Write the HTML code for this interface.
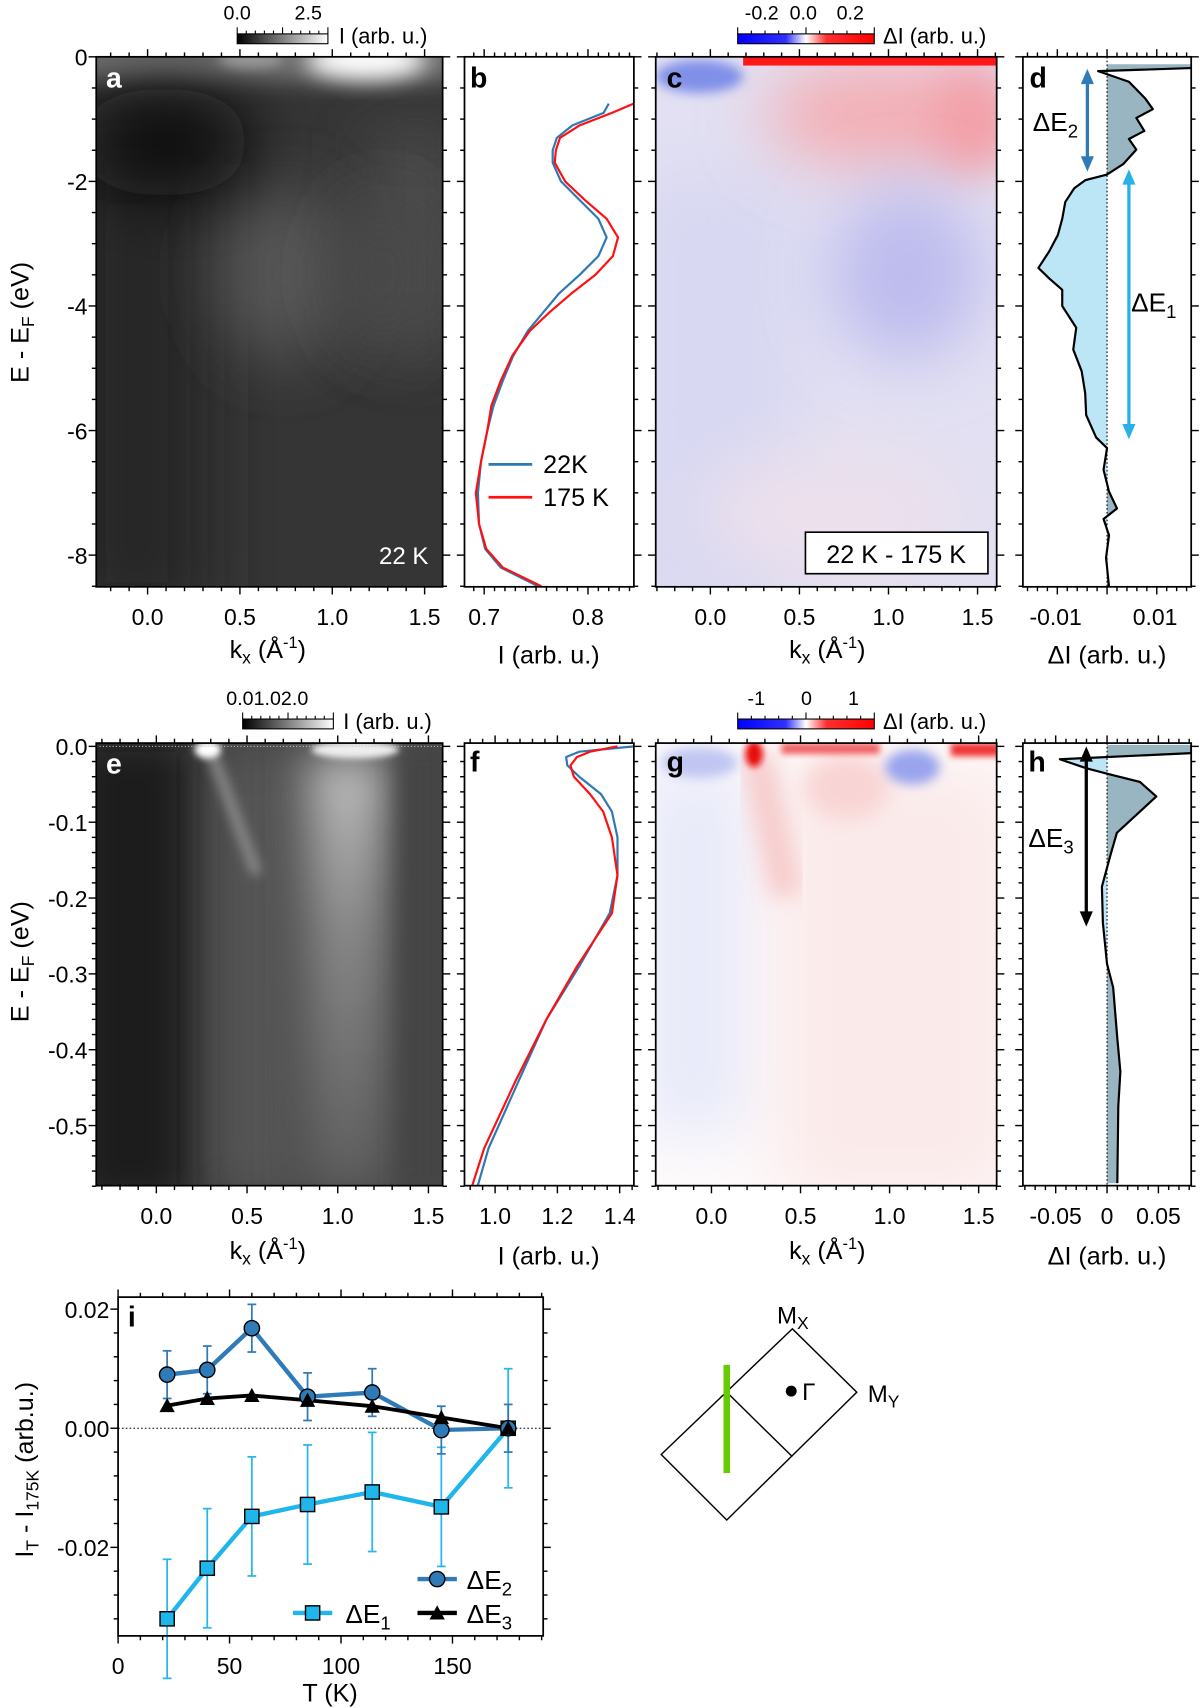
<!DOCTYPE html>
<html><head><meta charset="utf-8"><style>
html,body{margin:0;padding:0;background:#fff;}
svg{display:block;}
text{font-family:"Liberation Sans",Arial,sans-serif;}
</style></head><body>
<svg id="fig" xmlns="http://www.w3.org/2000/svg" width="1200" height="1708" viewBox="0 0 1098 1563">
<defs>
<filter id="b20" x="-50%" y="-50%" width="200%" height="200%"><feGaussianBlur stdDeviation="20"/></filter>
<filter id="b30" x="-80%" y="-80%" width="260%" height="260%"><feGaussianBlur stdDeviation="30"/></filter>
<filter id="b10" x="-50%" y="-50%" width="200%" height="200%"><feGaussianBlur stdDeviation="10"/></filter>
<filter id="b5" x="-50%" y="-50%" width="200%" height="200%"><feGaussianBlur stdDeviation="5"/></filter>
<filter id="b3" x="-50%" y="-50%" width="200%" height="200%"><feGaussianBlur stdDeviation="3"/></filter>
<clipPath id="ca"><rect x="88" y="52" width="317" height="485"/></clipPath>
<clipPath id="cb"><rect x="425" y="52" width="155" height="485"/></clipPath>
<clipPath id="cc"><rect x="600" y="52" width="312" height="485"/></clipPath>
<clipPath id="cd"><rect x="936" y="52" width="154" height="485"/></clipPath>
<clipPath id="ce"><rect x="88" y="680" width="317" height="405"/></clipPath>
<clipPath id="cf"><rect x="425" y="680" width="155" height="405"/></clipPath>
<clipPath id="cg"><rect x="600" y="680" width="312" height="405"/></clipPath>
<clipPath id="ch"><rect x="936" y="680" width="154" height="405"/></clipPath>
<clipPath id="cdR"><rect x="1013" y="52" width="77" height="485"/></clipPath>
<clipPath id="cdL"><rect x="936" y="52" width="77" height="485"/></clipPath>
<clipPath id="chR"><rect x="1013" y="680" width="77" height="405"/></clipPath>
<clipPath id="chL"><rect x="936" y="680" width="77" height="405"/></clipPath>
<linearGradient id="gray" x1="0" x2="1"><stop offset="0" stop-color="#000"/><stop offset="1" stop-color="#fff"/></linearGradient>
<linearGradient id="bwr" x1="0" x2="1"><stop offset="0" stop-color="#0000ff"/><stop offset="0.35" stop-color="#3030ff"/><stop offset="0.5" stop-color="#fff"/><stop offset="0.65" stop-color="#ff3030"/><stop offset="1" stop-color="#ff0000"/></linearGradient>
<linearGradient id="bandE" x1="0" x2="0" y1="0" y2="1"><stop offset="0" stop-color="#c0c0c0"/><stop offset="0.4" stop-color="#888"/><stop offset="1" stop-color="#5c5c5c"/></linearGradient>
</defs>

<g clip-path="url(#ca)">
<rect x="88" y="52" width="317" height="485" fill="#353535"/>
<rect x="60" y="150" width="130" height="420" fill="#262626" filter="url(#b30)"/>
<rect x="340" y="120" width="80" height="200" fill="#4e4e4e" filter="url(#b30)"/>
<ellipse cx="260" cy="250" rx="60" ry="80" fill="#565656" filter="url(#b30)"/>
<ellipse cx="350" cy="250" rx="40" ry="70" fill="#4a4a4a" filter="url(#b30)"/>
<rect x="70" y="30" width="350" height="45" fill="#707070" filter="url(#b10)"/>
<ellipse cx="150" cy="130" rx="80" ry="50" fill="#080808" filter="url(#b30)"/>
<ellipse cx="335" cy="55" rx="55" ry="18" fill="#ffffff" filter="url(#b10)"/>
<ellipse cx="230" cy="54" rx="30" ry="8" fill="#999" filter="url(#b5)"/>
</g>
<g clip-path="url(#cc)">
<rect x="600" y="52" width="312" height="485" fill="#e2e0f2"/>
<rect x="580" y="160" width="150" height="400" fill="#d8d8f2" filter="url(#b30)"/>
<ellipse cx="810" cy="105" rx="110" ry="50" fill="#f4aeb4" filter="url(#b30)"/>
<ellipse cx="890" cy="110" rx="40" ry="50" fill="#f3a0a8" filter="url(#b20)"/>
<ellipse cx="830" cy="250" rx="70" ry="80" fill="#bdbcee" filter="url(#b30)"/>
<ellipse cx="640" cy="70" rx="40" ry="15" fill="#8090e8" filter="url(#b5)"/>
<ellipse cx="760" cy="470" rx="120" ry="60" fill="#ece0ec" filter="url(#b30)"/>
<rect x="680" y="52" width="232" height="8" fill="#ff1818"/>
</g>
<g clip-path="url(#ce)">
<rect x="88" y="680" width="317" height="405" fill="#484848"/>
<rect x="60" y="670" width="120" height="440" fill="#1c1c1c" filter="url(#b20)"/>
<rect x="200" y="690" width="70" height="400" fill="#555" filter="url(#b20)"/>
<rect x="280" y="690" width="75" height="400" fill="url(#bandE)" filter="url(#b20)"/>
<rect x="365" y="680" width="45" height="410" fill="#444" filter="url(#b10)"/>
<line x1="192" y1="684" x2="235" y2="800" stroke="#8a8a8a" stroke-width="10" filter="url(#b5)"/>
<ellipse cx="190" cy="686" rx="12" ry="8" fill="#fff" filter="url(#b3)"/>
<ellipse cx="325" cy="686" rx="40" ry="8" fill="#eee" filter="url(#b3)"/>
<line x1="88" y1="683" x2="405" y2="683" stroke="#ccc" stroke-width="1" stroke-dasharray="1 2"/>
</g>
<g clip-path="url(#cg)">
<rect x="600" y="680" width="312" height="405" fill="#fefbfb"/>
<rect x="580" y="700" width="110" height="340" fill="#e8eafa" filter="url(#b30)"/>
<rect x="710" y="700" width="220" height="400" fill="#fbeaea" filter="url(#b30)"/>
<line x1="692" y1="690" x2="720" y2="820" stroke="#f7cccc" stroke-width="30" filter="url(#b10)"/>
<ellipse cx="775" cy="720" rx="40" ry="30" fill="#f9d4d4" filter="url(#b10)"/>
<ellipse cx="640" cy="698" rx="35" ry="14" fill="#c0c6f2" filter="url(#b5)"/>
<ellipse cx="835" cy="702" rx="25" ry="16" fill="#9aa4ee" filter="url(#b5)"/>
<ellipse cx="690" cy="690" rx="8" ry="12" fill="#e81010" filter="url(#b3)"/>
<rect x="715" y="680" width="90" height="10" fill="#f06060" filter="url(#b3)"/>
<rect x="870" y="680" width="45" height="12" fill="#f03030" filter="url(#b3)"/>
</g>
<g id="dyn"></g>
</svg>
<script>
// ---- data ----
const bE = [-0.75,-0.9,-1.1,-1.3,-1.5,-1.7,-2.0,-2.3,-2.6,-2.9,-3.2,-3.5,-3.8,-4.1,-4.4,-4.8,-5.2,-5.6,-6.0,-6.5,-7.0,-7.5,-7.9,-8.2,-8.5];
const b22K = [0.820,0.815,0.785,0.770,0.766,0.766,0.774,0.792,0.810,0.818,0.810,0.792,0.772,0.757,0.742,0.728,0.718,0.709,0.703,0.697,0.694,0.695,0.701,0.716,0.752];
const b175K = [0.844,0.823,0.792,0.773,0.769,0.768,0.778,0.797,0.818,0.829,0.824,0.807,0.784,0.763,0.744,0.727,0.716,0.707,0.703,0.697,0.692,0.695,0.702,0.718,0.755];
const dE = [-0.12,-0.18,-0.23,-0.40,-0.67,-0.84,-0.98,-1.19,-1.32,-1.49,-1.72,-1.89,-1.98,-2.11,-2.33,-2.60,-2.86,-3.12,-3.39,-3.56,-3.74,-4.00,-4.35,-4.70,-5.05,-5.40,-5.75,-6.11,-6.28,-6.63,-6.98,-7.25,-7.42,-7.68,-8.04,-8.51];
const dI = [0.0172,0.0169,-0.0018,0.0044,0.0077,0.0092,0.0059,0.0075,0.0044,0.0059,0.0033,0.0000,-0.0044,-0.0066,-0.0084,-0.0090,-0.0099,-0.0116,-0.0138,-0.0116,-0.0090,-0.0090,-0.0062,-0.0068,-0.0051,-0.0044,-0.0042,-0.0022,0.0000,-0.0007,0.0004,0.0020,-0.0007,0.0004,-0.0002,0.0004];
const fE = [0,-0.007,-0.014,-0.025,-0.04,-0.063,-0.086,-0.12,-0.17,-0.22,-0.29,-0.36,-0.44,-0.53,-0.58];
const f22K = [1.446,1.270,1.228,1.232,1.270,1.340,1.375,1.393,1.393,1.368,1.270,1.165,1.077,0.979,0.944];
const f175K = [1.393,1.305,1.263,1.242,1.253,1.305,1.347,1.375,1.393,1.375,1.263,1.165,1.067,0.965,0.926];
const hE = [0.002,-0.009,-0.017,-0.029,-0.036,-0.047,-0.066,-0.086,-0.114,-0.145,-0.185,-0.233,-0.287,-0.318,-0.385,-0.429,-0.474,-0.576];
const hI = [0.082,0.082,-0.046,-0.020,0.000,0.032,0.048,0.032,0.0096,0.003,-0.005,-0.004,0.000,0.006,0.010,0.013,0.011,0.010];
const iT = [22,40,60,85,114,145,175];
const iE1 = [-0.032,-0.0235,-0.0148,-0.0128,-0.0107,-0.0132,0];
const iE1err = [0.010,0.010,0.010,0.010,0.010,0.010,0.010];
const iE2 = [0.009,0.0098,0.0168,0.0053,0.0060,-0.0003,0];
const iE2err = [0.004,0.004,0.004,0.004,0.004,0.004,0.004];
const iE3 = [0.0038,0.0050,0.0055,0.0047,0.0037,0.0018,0];

// ---- scales ----
const ya = E => 52 - E*57;
const xa = k => 135 + k*169;
const xb = I => 443 + (I-0.7)*950;
const xc = k => 650 + k*163;
const xd = v => 1013 + v*4550;
const ye = E => 683 - E*694;
const xe = k => 143 + k*166;
const xf = I => 453 + (I-1)*285;
const xg = k => 651 + k*163;
const xh = v => 1013 + v*940;
const xi = T => 108 + T*2.04;
const yi = v => 1307 - v*5450;

const NS='http://www.w3.org/2000/svg';
const root=document.getElementById('dyn');
function mk(tag,attrs,parent){const e=document.createElementNS(NS,tag);for(const k in attrs)e.setAttribute(k,attrs[k]);(parent||root).appendChild(e);return e;}
function txt(x,y,s,size,anchor,extra){const t=mk('text',Object.assign({x:x,y:y,'font-size':size,'text-anchor':anchor||'middle'},extra||{}));t.textContent=s;return t;}

function ticks(side,fr,scale,vmin,vmax,minor,major){
  const g=mk('g',{stroke:'#000','stroke-width':1.3});
  
  
  const n0=Math.ceil(vmin/minor-1e-6), n1=Math.floor(vmax/minor+1e-6);
  for(let n=n0;n<=n1;n++){
    const v=n*minor; const r=v/major; const isM=Math.abs(r-Math.round(r))<1e-6;
    const L=isM?7:4; const p=scale(v);
    if(side==='left')mk('line',{x1:fr[0],x2:fr[0]-L,y1:p,y2:p},g);
    if(side==='right')mk('line',{x1:fr[1],x2:fr[1]+L,y1:p,y2:p},g);
    if(side==='top')mk('line',{x1:p,x2:p,y1:fr[2],y2:fr[2]-L},g);
    if(side==='bottom')mk('line',{x1:p,x2:p,y1:fr[3],y2:fr[3]+L},g);
  }
}
function frame(fr,name){
  const r=mk('rect',{x:fr[0],y:fr[2],width:fr[1]-fr[0],height:fr[3]-fr[2],fill:'none',stroke:'#000','stroke-width':1.6});
  
  
}
function allTicks(fr,xs,xr,xmin,xmaj,ys,yr,ymin,ymaj){
  ['top','bottom'].forEach(s=>ticks(s,fr,xs,xr[0],xr[1],xmin,xmaj));
  ['left','right'].forEach(s=>ticks(s,fr,ys,yr[0],yr[1],ymin,ymaj));
}
function poly(xs,ys,xsc,ysc,color,w,clip,name){
  const pts=xs.map((v,i)=>xsc(v).toFixed(1)+','+ysc(ys[i]).toFixed(1)).join(' ');
  const p=mk('polyline',{points:pts,fill:'none',stroke:color,'stroke-width':w,'stroke-linejoin':'round'});
  if(clip)p.setAttribute('clip-path','url(#'+clip+')');
  
  
  return p;
}
function fillArea(vals,Es,xsc,ysc,clip,color,name){
  let pts=xsc(0)+','+ysc(Es[0])+' ';
  pts+=vals.map((v,i)=>xsc(v).toFixed(1)+','+ysc(Es[i]).toFixed(1)).join(' ');
  pts+=' '+xsc(0)+','+ysc(Es[Es.length-1]);
  const p=mk('polygon',{points:pts,fill:color,stroke:'none','clip-path':'url(#'+clip+')'});
  
  
}
function arrow(x,y1,y2,color,name){
  const g=mk('g',{});
  
  
  mk('line',{x1:x,x2:x,y1:y1+10,y2:y2-10,stroke:color,'stroke-width':3},g);
  mk('polygon',{points:`${x-6},${y1+14} ${x+6},${y1+14} ${x},${y1}`,fill:color},g);
  mk('polygon',{points:`${x-6},${y2-14} ${x+6},${y2-14} ${x},${y2}`,fill:color},g);
}
const FS=21;
function kxTitle(x,y,name){const t=mk('text',{x:x,y:y,'font-size':23,'text-anchor':'middle'});t.innerHTML='k<tspan font-size="16" dy="5">x</tspan><tspan dy="-5"> (Å</tspan><tspan font-size="15" dy="-9">-1</tspan><tspan dy="9">)</tspan>';
}

// ---- Panel a ----
const Fa=[88,405,52,537];
allTicks(Fa,xa,[-0.27,1.59],0.1,0.5,ya,[-8.5,0],0.5,2);
frame(Fa,'panel-a-frame');
[0,-2,-4,-6,-8].forEach(v=>{const t=txt(80,ya(v)+8,v===0?'0':String(v),FS,'end');});
['0.0','0.5','1.0','1.5'].forEach((s,i)=>{const t=txt(xa(i*0.5),572,s,FS);});
let t;
t=txt(97,80,'a',26,'start',{'font-weight':'bold',fill:'#fff'});
t=txt(392,516,'22 K',22,'end',{fill:'#fff'});
kxTitle(245,602,'x-axis-title-a');
t=mk('text',{x:0,y:0,'font-size':23,'text-anchor':'middle',transform:'translate(26,295) rotate(-90)'});t.innerHTML='E - E<tspan font-size="16" dy="5">F</tspan><tspan dy="-5"> (eV)</tspan>';

function cbar(x,y,w,fill,name){const r=mk('rect',{x:x,y:y,width:w,height:9,fill:fill,stroke:'#000','stroke-width':1});
 const g=mk('g',{stroke:'#000','stroke-width':1});for(let i=0;i<=10;i++){const xx=x+i*w/10;mk('line',{x1:xx,x2:xx,y1:y,y2:y-(i%5===0?6:3)},g);} }
cbar(217,31,83,'url(#gray)','colorbar-a');
t=txt(217,18,'0.0',18,'middle');
t=txt(282,18,'2.5',18,'middle');
t=txt(310,40,'I (arb. u.)',20,'start');

// ---- Panel b ----
const Fb=[425,580,52,537];
allTicks(Fb,xb,[0.682,0.844],0.01,0.1,ya,[-8.5,0],0.5,2);
poly(b22K,bE,xb,ya,'#2e78b5',2,'cb','curve-22K');
poly(b175K,bE,xb,ya,'#ff1010',2,'cb','curve-175K');
frame(Fb,'panel-b-frame');
t=txt(443,572,'0.7',FS);
t=txt(538,572,'0.8',FS);
t=txt(502,607,'I (arb. u.)',23);
t=txt(430,80,'b',26,'start',{'font-weight':'bold'});
let l=mk('line',{x1:447,x2:487,y1:425,y2:425,stroke:'#2e78b5','stroke-width':2.5});
t=txt(497,433,'22K',23,'start');
l=mk('line',{x1:447,x2:487,y1:455,y2:455,stroke:'#ff1010','stroke-width':2.5});
t=txt(497,463,'175 K',23,'start');

// ---- Panel c ----
const Fc=[600,912,52,537];
allTicks(Fc,xc,[-0.3,1.6],0.1,0.5,ya,[-8.5,0],0.5,2);
frame(Fc,'panel-c-frame');
['0.0','0.5','1.0','1.5'].forEach((s,i)=>{const t=txt(xc(i*0.5),572,s,FS);});
t=txt(610,80,'c',26,'start',{'font-weight':'bold'});
let bx=mk('rect',{x:737,y:487,width:167,height:38,fill:'#fff',stroke:'#000','stroke-width':1.5});
t=txt(820,515,'22 K - 175 K',23);
kxTitle(757,602,'x-axis-title-c');
cbar(675,31,125,'url(#bwr)','colorbar-c');
t=txt(697,18,'-0.2',18);
t=txt(735,18,'0.0',18);
t=txt(778,18,'0.2',18);
t=txt(808,40,'ΔI (arb. u.)',20,'start');

// ---- Panel d ----
const Fd=[936,1090,52,537];
fillArea(dI,dE,xd,ya,'cdR','#98b5c1','fill-positive-d');
fillArea(dI,dE,xd,ya,'cdL','#bce6f5','fill-negative-d');
l=mk('line',{x1:1013,x2:1013,y1:52,y2:537,stroke:'#000','stroke-width':1,'stroke-dasharray':'1.5 2'});
poly(dI,dE,xd,ya,'#000',2,'cd','curve-d');
allTicks(Fd,xd,[-0.0168,0.0168],0.002,0.01,ya,[-8.5,0],0.5,2);
frame(Fd,'panel-d-frame');
t=txt(966,572,'-0.01',FS);
t=txt(1057,572,'0.01',FS);
t=txt(1013,607,'ΔI (arb. u.)',23);
t=txt(942,80,'d',26,'start',{'font-weight':'bold'});
arrow(995,63,157,'#2f7bb8','arrow-dE2');
arrow(1033,155,402,'#29b0e8','arrow-dE1');
t=mk('text',{x:945,y:120,'font-size':24});t.innerHTML='ΔE<tspan font-size="17" dy="6">2</tspan>';
t=mk('text',{x:1035,y:285,'font-size':24});t.innerHTML='ΔE<tspan font-size="17" dy="6">1</tspan>';

// ---- Panel e ----
const Fe=[88,405,680,1085];
allTicks(Fe,xe,[-0.33,1.58],0.1,0.5,ye,[-0.58,0],0.02,0.1);
frame(Fe,'panel-e-frame');
['0.0','-0.1','-0.2','-0.3','-0.4','-0.5'].forEach((s,i)=>{const t=txt(80,ye(-i*0.1)+8,s,FS,'end');});
['0.0','0.5','1.0','1.5'].forEach((s,i)=>{const t=txt(xe(i*0.5),1120,s,FS);});
t=txt(97,708,'e',26,'start',{'font-weight':'bold',fill:'#fff'});
kxTitle(245,1152,'x-axis-title-e');
t=mk('text',{x:0,y:0,'font-size':23,'text-anchor':'middle',transform:'translate(26,880) rotate(-90)'});t.innerHTML='E - E<tspan font-size="16" dy="5">F</tspan><tspan dy="-5"> (eV)</tspan>';

cbar(222,658,83,'url(#gray)','colorbar-e');
t=txt(207,645,'0.01.02.0',18,'start');
t=txt(314,667,'I (arb. u.)',20,'start');

// ---- Panel f ----
const Ff=[425,580,680,1085];
allTicks(Ff,xf,[0.92,1.44],0.04,0.2,ye,[-0.58,0],0.02,0.1);
poly(f22K,fE,xf,ye,'#2e78b5',2,'cf','curve-f-22K');
poly(f175K,fE,xf,ye,'#ff1010',2,'cf','curve-f-175K');
frame(Ff,'panel-f-frame');
['1.0','1.2','1.4'].forEach((s,i)=>{const t=txt(xf(1+i*0.2),1120,s,FS);});
t=txt(502,1157,'I (arb. u.)',23);
t=txt(430,706,'f',26,'start',{'font-weight':'bold'});

// ---- Panel g ----
const Fg=[600,912,680,1085];
allTicks(Fg,xg,[-0.3,1.6],0.1,0.5,ye,[-0.58,0],0.02,0.1);
frame(Fg,'panel-g-frame');
['0.0','0.5','1.0','1.5'].forEach((s,i)=>{const t=txt(xg(i*0.5),1120,s,FS);});
t=txt(610,706,'g',26,'start',{'font-weight':'bold'});
kxTitle(757,1152,'x-axis-title-g');
cbar(675,658,125,'url(#bwr)','colorbar-g');
t=txt(692,645,'-1',18);
t=txt(738,645,'0',18);
t=txt(781,645,'1',18);
t=txt(808,667,'ΔI (arb. u.)',20,'start');

// ---- Panel h ----
const Fh=[936,1090,680,1085];
fillArea(hI,hE,xh,ye,'chR','#98b5c1','fill-positive-h');
fillArea(hI,hE,xh,ye,'chL','#bce6f5','fill-negative-h');
l=mk('line',{x1:1013,x2:1013,y1:680,y2:1085,stroke:'#000','stroke-width':1,'stroke-dasharray':'1.5 2'});
poly(hI,hE,xh,ye,'#000',2,'ch','curve-h');
allTicks(Fh,xh,[-0.082,0.082],0.01,0.05,ye,[-0.58,0],0.02,0.1);
frame(Fh,'panel-h-frame');
['-0.05','0','0.05'].forEach((s,i)=>{const t=txt(xh(-0.05+i*0.05),1120,s,FS);});
t=txt(1013,1157,'ΔI (arb. u.)',23);
t=txt(941,706,'h',26,'start',{'font-weight':'bold'});
arrow(994,683,848,'#000','arrow-dE3');
t=mk('text',{x:941,y:775,'font-size':24});t.innerHTML='ΔE<tspan font-size="17" dy="6">3</tspan>';

// ---- Panel i ----
const Fi=[108,497,1187,1497];
allTicks(Fi,xi,[0,190],10,50,yi,[-0.0349,0.022],0.004,0.02);
l=mk('line',{x1:108,x2:497,y1:yi(0),y2:yi(0),stroke:'#000','stroke-width':1,'stroke-dasharray':'1.5 2'});
function errs(vals,err,color,name){const g=mk('g',{stroke:color,'stroke-width':1.6});
 iT.forEach((T,i)=>{const x=xi(T),a=yi(vals[i]+err[i]),b=yi(vals[i]-err[i]);mk('line',{x1:x,x2:x,y1:a,y2:b},g);mk('line',{x1:x-4,x2:x+4,y1:a,y2:a},g);mk('line',{x1:x-4,x2:x+4,y1:b,y2:b},g);});}
errs(iE1,iE1err,'#29b6ec','errorbars-dE1');
errs(iE2,iE2err,'#2f7bb8','errorbars-dE2');
poly(iT,iE1,xi,yi,'#1fb6ec',4,null,'line-dE1');
poly(iT,iE2,xi,yi,'#2f7bb8',4,null,'line-dE2');
poly(iT,iE3,xi,yi,'#000',3.5,null,'line-dE3');
iT.forEach((T,i)=>{
  const s=mk('rect',{x:xi(T)-6.5,y:yi(iE1[i])-6.5,width:13,height:13,fill:'#1fb6ec',stroke:'#000','stroke-width':1.3});
  
  
  const c=mk('circle',{cx:xi(T),cy:yi(iE2[i]),r:7,fill:'#2f7bb8',stroke:'#000','stroke-width':1.3});
  
  
  const x=xi(T),y=yi(iE3[i]);
  const tr=mk('polygon',{points:`${x-7},${y+6} ${x+7},${y+6} ${x},${y-7}`,fill:'#000'});
  
  
});
frame(Fi,'panel-i-frame');
['0','50','100','150'].forEach((s,i)=>{const t=txt(xi(i*50),1532,s,FS);});
[['0.02',0.02],['0.00',0],['-0.02',-0.02]].forEach(p=>{const t=txt(100,yi(p[1])+8,p[0],FS,'end');});
t=txt(302,1557,'T (K)',23);
t=mk('text',{x:0,y:0,'font-size':23,'text-anchor':'middle',transform:'translate(30,1345) rotate(-90)'});t.innerHTML='I<tspan font-size="16" dy="5">T</tspan><tspan dy="-5"> - I</tspan><tspan font-size="16" dy="5">175K</tspan><tspan dy="-5"> (arb.u.)</tspan>';

t=txt(117,1214,'i',26,'start',{'font-weight':'bold'});
function leg(x1,x2,y,color,mark,label,sub,tx,name){const g=mk('g',{});
 mk('line',{x1:x1,x2:x2,y1:y,y2:y,stroke:color,'stroke-width':4},g);const cx=(x1+x2)/2;
 if(mark==='c')mk('circle',{cx:cx,cy:y,r:7,fill:color,stroke:'#000','stroke-width':1.3},g);
 if(mark==='s')mk('rect',{x:cx-6.5,y:y-6.5,width:13,height:13,fill:color,stroke:'#000','stroke-width':1.3},g);
 if(mark==='t')mk('polygon',{points:`${cx-7},${y+6} ${cx+7},${y+6} ${cx},${y-7}`,fill:'#000'},g);
 const t=mk('text',{x:tx,y:y+9,'font-size':24},g);t.innerHTML=label+'<tspan font-size="17" dy="6">'+sub+'</tspan>';}
leg(382,418,1445,'#2f7bb8','c','ΔE','2',427,'legend-dE2');
leg(268,304,1476,'#1fb6ec','s','ΔE','1',316,'legend-dE1');
leg(382,418,1476,'#000','t','ΔE','3',427,'legend-dE3');

// ---- Brillouin zone ----
const bz=mk('g',{fill:'none',stroke:'#000','stroke-width':1.3});


mk('polygon',{points:'725,1216 784,1274 665,1391 605,1331'},bz);
mk('line',{x1:665,y1:1274,x2:725,y2:1333},bz);
const gb=mk('rect',{x:662,y:1249,width:6,height:99,fill:'#66cc00'});


const gd=mk('circle',{cx:724,cy:1273,r:5,fill:'#000'});


t=txt(734,1281,'Γ',22,'start');
t=mk('text',{x:711,y:1211,'font-size':22});t.innerHTML='M<tspan font-size="16" dy="5">X</tspan>';
t=mk('text',{x:794,y:1283,'font-size':22});t.innerHTML='M<tspan font-size="16" dy="5">Y</tspan>';
</script>
</body></html>
